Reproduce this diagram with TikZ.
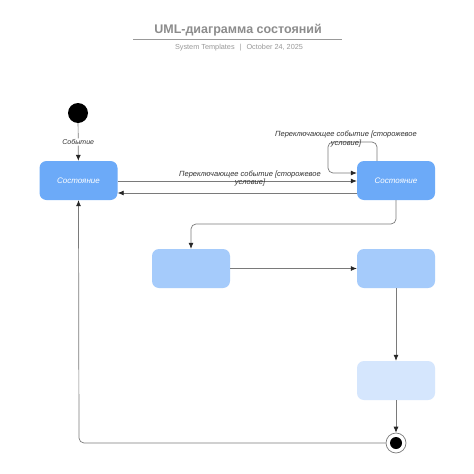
\documentclass[tikz,border=0pt]{standalone}
\usepackage{fontspec}
\setmainfont{Liberation Sans}
\usetikzlibrary{arrows.meta}
\definecolor{stA}{HTML}{6CAAF8}
\definecolor{stB}{HTML}{A5CBFB}
\definecolor{stC}{HTML}{D5E6FD}
\definecolor{ln}{HTML}{7A7A7A}
\begin{document}
\begin{tikzpicture}[x=1pt,y=-1pt,
  statebox/.style={rounded corners=7pt, minimum width=78pt, minimum height=39pt, inner sep=0pt, font=\fontsize{8}{9}\selectfont\itshape, text=white},
  conn/.style={draw=ln, line width=0.7pt, rounded corners=5pt, -{Latex[length=6pt,width=5pt,color=black!85]}},
  lbl/.style={font=\fontsize{7.5}{8.5}\selectfont\itshape, text=black!80, align=center, inner sep=1pt}]
\useasboundingbox (0,0) rectangle (474,474);
\fill[white] (0,0) rectangle (474,474);
% title
\node (title) at (238,30) {\fontsize{12.5}{14}\selectfont\bfseries\color{black!45}UML-диаграмма состояний};
\draw[black!40, line width=0.8pt] (133,39.5) -- (342,39.5);
\node (sub) at (239,47.5) {\fontsize{7.3}{8}\selectfont\color{black!40}System Templates\hspace{5pt}|\hspace{5pt}October 24, 2025};
% nodes
\node[circle, fill=black, minimum size=20pt, inner sep=0pt] (init) at (78,113) {};
\node[statebox, fill=stA] (s1) at (78.5,180.5) {Состояние};
\node[statebox, fill=stA] (s2) at (396,180.5) {Состояние};
\node[statebox, fill=stB] (s3) at (191,268.5) {};
\node[statebox, fill=stB] (s4) at (396,268.5) {};
\node[statebox, fill=stC] (s5) at (396,380.5) {};
\node[circle, draw=ln, line width=0.7pt, fill=white, minimum size=20pt, inner sep=0pt] (fin) at (396,443) {};
\node[circle, fill=black, minimum size=12pt, inner sep=0pt] (finc) at (fin) {};
% connectors
\draw[conn] (init) -- node[lbl, fill=white, font=\fontsize{7}{8}\selectfont\itshape] {Событие} (s1);
\draw[conn] (s1.east |- 0,181) -- (s2.west |- 0,181);
\node[lbl] (l1) at (250,178.5) {Переключающее событие [сторожевое\\условие]};
\draw[conn] (s2.west |- 0,193) -- (s1.east |- 0,193);
\draw[conn] (377,161) -- (377,142) -- (328,142) -- (328,173) -- (s2.west |- 0,173);
\node[lbl] (l2) at (346,139) {Переключающее событие [сторожевое\\условие]};
\draw[conn] (s2.south) -- (396,224) -- (191,224) -- (s3.north);
\draw[conn] (s3.east) -- (s4.west);
\draw[conn] (s4.south) -- (s5.north);
\draw[conn] (s5.south) -- (fin.north);
\draw[conn] (fin.west) -- (79,443) -- (s1.south);
\end{tikzpicture}
\end{document}
